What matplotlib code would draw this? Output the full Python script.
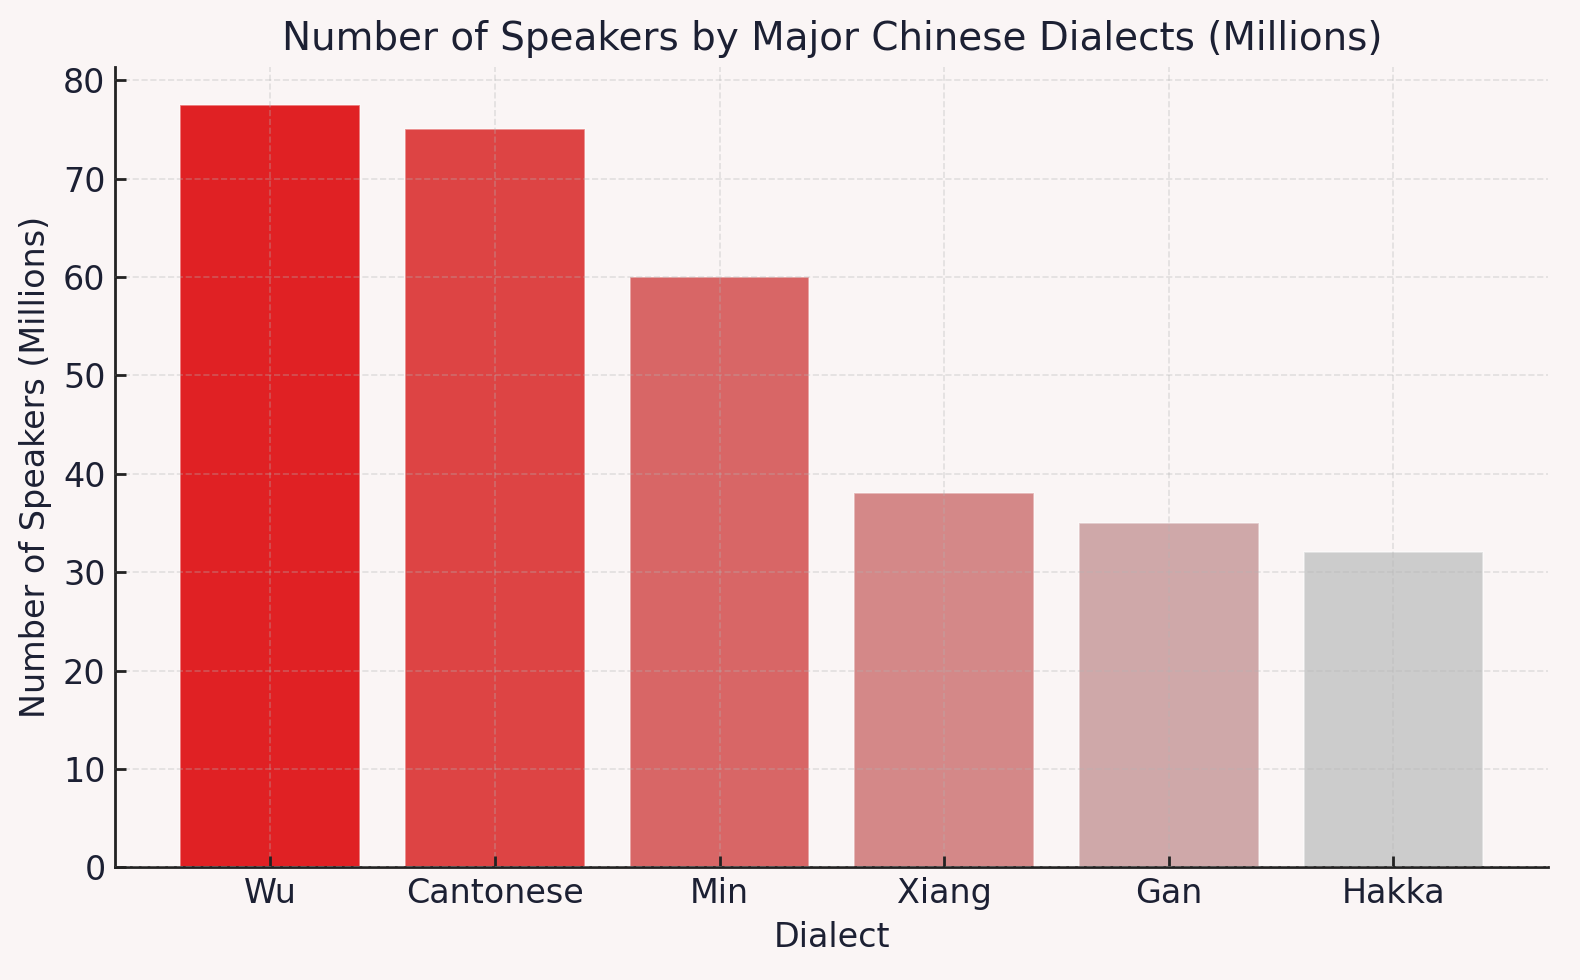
import matplotlib
matplotlib.use("Agg")
import matplotlib.pyplot as plt

# Daten
dialekte = ["Wu", "Cantonese", "Min", "Xiang", "Gan", "Hakka"]
sprecher = [77.5, 75, 60, 38, 35, 32]
farben = ["#e02124", "#dd4444", "#d86666", "#d48888", "#cfa8a9", "#cccccc"]

text_farbe = "#1c2033"
hintergrund = "#faf5f5"

plt.rcParams["font.family"] = "DejaVu Sans"
plt.rcParams["text.color"] = text_farbe
plt.rcParams["axes.labelcolor"] = text_farbe
plt.rcParams["xtick.color"] = text_farbe
plt.rcParams["ytick.color"] = text_farbe

fig, ax = plt.subplots(figsize=(7.9, 4.9), dpi=200)
fig.patch.set_facecolor(hintergrund)
ax.set_facecolor(hintergrund)

ax.bar(dialekte, sprecher, color=farben, width=0.8,
       edgecolor=(1, 1, 1, 0.5), linewidth=0.6)

ax.set_ylim(0, max(sprecher) * 1.05)
ax.set_title("Number of Speakers by Major Chinese Dialects (Millions)", fontsize=14)
ax.set_xlabel("Dialect", fontsize=12)
ax.set_ylabel("Number of Speakers (Millions)", fontsize=12)
ax.tick_params(axis="both", labelsize=12, direction="in", length=4, width=1,
               colors="#222222", labelcolor=text_farbe)

# Gitter über den Balken
ax.set_axisbelow(False)
ax.grid(True, linestyle="--", color="#b4b4b4", alpha=0.35, linewidth=0.6)

for seite in ["top", "right"]:
    ax.spines[seite].set_visible(False)
for seite in ["left", "bottom"]:
    ax.spines[seite].set_color("#222222")
    ax.spines[seite].set_linewidth(1)

fig.subplots_adjust(left=0.073, right=0.98, top=0.932, bottom=0.115)
fig.savefig("out.png", dpi=200, facecolor=fig.get_facecolor())
